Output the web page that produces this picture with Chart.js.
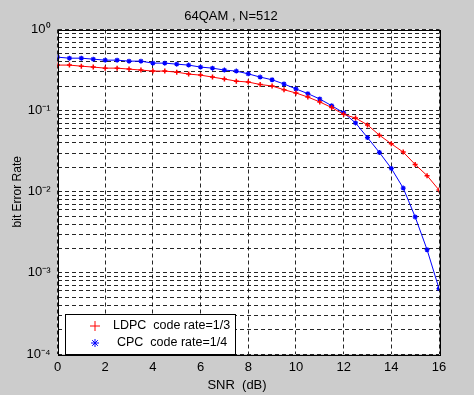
<!DOCTYPE html>
<html>
<head>
<meta charset="utf-8">
<title>64QAM , N=512</title>
<script src="https://cdn.jsdelivr.net/npm/chart.js@4.4.1/dist/chart.umd.min.js"></script>
<style>
    html, body { margin: 0; padding: 0; background: #cccccc; }
    #wrap { width: 474px; height: 395px; }
</style>
</head>
<body>
<div id="wrap"><canvas id="berChart" width="474" height="395"></canvas></div>
<script>
// SNR points (dB)
const snr = [0, 0.5, 1, 1.5, 2, 2.5, 3, 3.5, 4, 4.5, 5, 5.5, 6, 6.5, 7, 7.5,
    8, 8.5, 9, 9.5, 10, 10.5, 11, 11.5, 12, 12.5, 13, 13.5, 14, 14.5, 15, 15.5, 16];

// LDPC code rate=1/3 (red +)
const ldpcBer = [0.364, 0.364, 0.353, 0.344, 0.334, 0.334, 0.325, 0.316, 0.307, 0.307,
    0.298, 0.282, 0.274, 0.259, 0.245, 0.231, 0.225, 0.210, 0.201, 0.181,
    0.165, 0.147, 0.128, 0.109, 0.090, 0.081, 0.0667, 0.0498, 0.039, 0.0308,
    0.0217, 0.0158, 0.0105];

// CPC code rate=1/4 (blue *)
const cpcBer = [0.456, 0.443, 0.443, 0.431, 0.419, 0.419, 0.407, 0.407, 0.385, 0.385,
    0.374, 0.364, 0.344, 0.334, 0.316, 0.307, 0.284, 0.259, 0.240, 0.213,
    0.185, 0.162, 0.139, 0.115, 0.094, 0.0706, 0.0465, 0.0305, 0.0194, 0.0111,
    0.0049, 0.00193, 0.00064];

const seriesLabels = ['LDPC  code rate=1/3', 'CPC  code rate=1/4'];

// axis ticks
const xTicks = [0, 2, 4, 6, 8, 10, 12, 14, 16];
const yDecades = [1e-4, 1e-3, 1e-2, 1e-1, 1];
const yDecadeLabels = ['10\u207B\u2074', '10\u207B\u00B3', '10\u207B\u00B2', '10\u207B\u00B9', '10\u2070'];

const chartTitle = '64QAM , N=512';
const xLabel = 'SNR  (dB)';
const yLabel = 'bit Error Rate';

// log grid: 1..9 per decade
function buildLogGrid() {
    const vals = [];
    for (let i = 0; i < yDecades.length - 1; i++) {
        for (let m = 1; m < 10; m++) vals.push(yDecades[i] * m);
    }
    vals.push(yDecades[yDecades.length - 1]);
    return vals;
}

// matlab-ish figure: gray background, white axes, box, title, xlabel, legend
const matlabLook = {
    id: 'matlabLook',
    beforeDraw(chart) {
        const {ctx, chartArea: a} = chart;
        ctx.save();
        ctx.fillStyle = '#cccccc';
        ctx.fillRect(0, 0, chart.width, chart.height);
        ctx.fillStyle = '#ffffff';
        ctx.fillRect(a.left, a.top, a.right - a.left, a.bottom - a.top);
        ctx.restore();
    },
    afterDraw(chart) {
        const {ctx, chartArea: a} = chart;
        ctx.save();
        // axes box
        ctx.strokeStyle = '#000';
        ctx.lineWidth = 1;
        ctx.strokeRect(Math.round(a.left) + 0.5, Math.round(a.top) + 0.5,
            Math.round(a.right - a.left), Math.round(a.bottom - a.top));

        // title + xlabel
        ctx.fillStyle = '#000';
        ctx.font = '13px "Liberation Sans", Arial, sans-serif';
        ctx.textAlign = 'center';
        ctx.textBaseline = 'middle';
        ctx.fillText(chartTitle, 231, 16);
        ctx.fillText(xLabel, 237, 385);

        // legend
        const lx = 65.5, ly = 314.5, lw = 170, lh = 40;
        ctx.fillStyle = '#fff';
        ctx.fillRect(lx, ly, lw, lh);
        ctx.strokeRect(lx, ly, lw, lh);
        const rowY = [326, 343];
        const textX = [113, 117];
        ctx.font = '12.5px "Liberation Sans", Arial, sans-serif';
        ctx.textAlign = 'left';
        chart.data.datasets.forEach((ds, i) => {
            ctx.strokeStyle = ds.borderColor;
            ctx.fillStyle = ds.borderColor;
            ctx.lineWidth = 1;
            Chart.helpers.drawPoint(ctx, {pointStyle: ds.pointStyle, radius: i === 0 ? 5 : 4, rotation: 0, borderWidth: 1}, 95, rowY[i]);
            ctx.fillStyle = '#000';
            ctx.fillText(ds.label, textX[i], rowY[i]);
        });
        ctx.restore();
    }
};

const gridOpts = {color: 'rgba(0,0,0,0.85)', lineWidth: 1, drawTicks: false};
const borderOpts = {display: false, dash: [4, 3]};

new Chart(document.getElementById('berChart').getContext('2d'), {
    type: 'line',
    data: {
        datasets: [{
            label: seriesLabels[0],
            data: snr.map((x, i) => ({x: x, y: ldpcBer[i]})),
            borderColor: '#ff0000',
            backgroundColor: '#ff0000',
            borderWidth: 1,
            pointStyle: 'cross',
            pointRadius: 2.5,
            pointBorderWidth: 1.5,
            tension: 0,
            fill: false
        }, {
            label: seriesLabels[1],
            data: snr.map((x, i) => ({x: x, y: cpcBer[i]})),
            borderColor: '#0000ff',
            backgroundColor: '#0000ff',
            borderWidth: 1,
            pointStyle: 'star',
            pointRadius: 2.5,
            pointBorderWidth: 1.2,
            tension: 0,
            fill: false
        }]
    },
    options: {
        responsive: false,
        animation: false,
        devicePixelRatio: 1,
        layout: {padding: {top: 29.5, right: 35, bottom: 0, left: 0}},
        plugins: {
            legend: {display: false},
            title: {display: false},
            tooltip: {enabled: false}
        },
        scales: {
            x: {
                type: 'linear',
                min: 0,
                max: 16,
                afterBuildTicks: scale => { scale.ticks = xTicks.map(v => ({value: v})); },
                afterFit: scale => { scale.height = 41; },
                ticks: {
                    color: '#000',
                    padding: 6,
                    font: {family: '"Liberation Sans", Arial, sans-serif', size: 13}
                },
                grid: gridOpts,
                border: borderOpts
            },
            y: {
                type: 'logarithmic',
                min: 1e-4,
                max: 1,
                afterBuildTicks: scale => { scale.ticks = buildLogGrid().map(v => ({value: v})); },
                afterFit: scale => { scale.width = 57.5; },
                ticks: {
                    autoSkip: false,
                    color: '#000',
                    padding: 7,
                    font: {family: '"Liberation Sans", Arial, sans-serif', size: 13},
                    callback: function(value) {
                        const idx = yDecades.findIndex(d => Math.abs(d - value) / d < 1e-6);
                        return idx >= 0 ? yDecadeLabels[idx] : '';
                    }
                },
                grid: gridOpts,
                border: borderOpts,
                title: {
                    display: true,
                    text: yLabel,
                    color: '#000',
                    padding: {top: 10, bottom: 0},
                    font: {family: '"Liberation Sans", Arial, sans-serif', size: 12}
                }
            }
        }
    },
    plugins: [matlabLook]
});
</script>
</body>
</html>
